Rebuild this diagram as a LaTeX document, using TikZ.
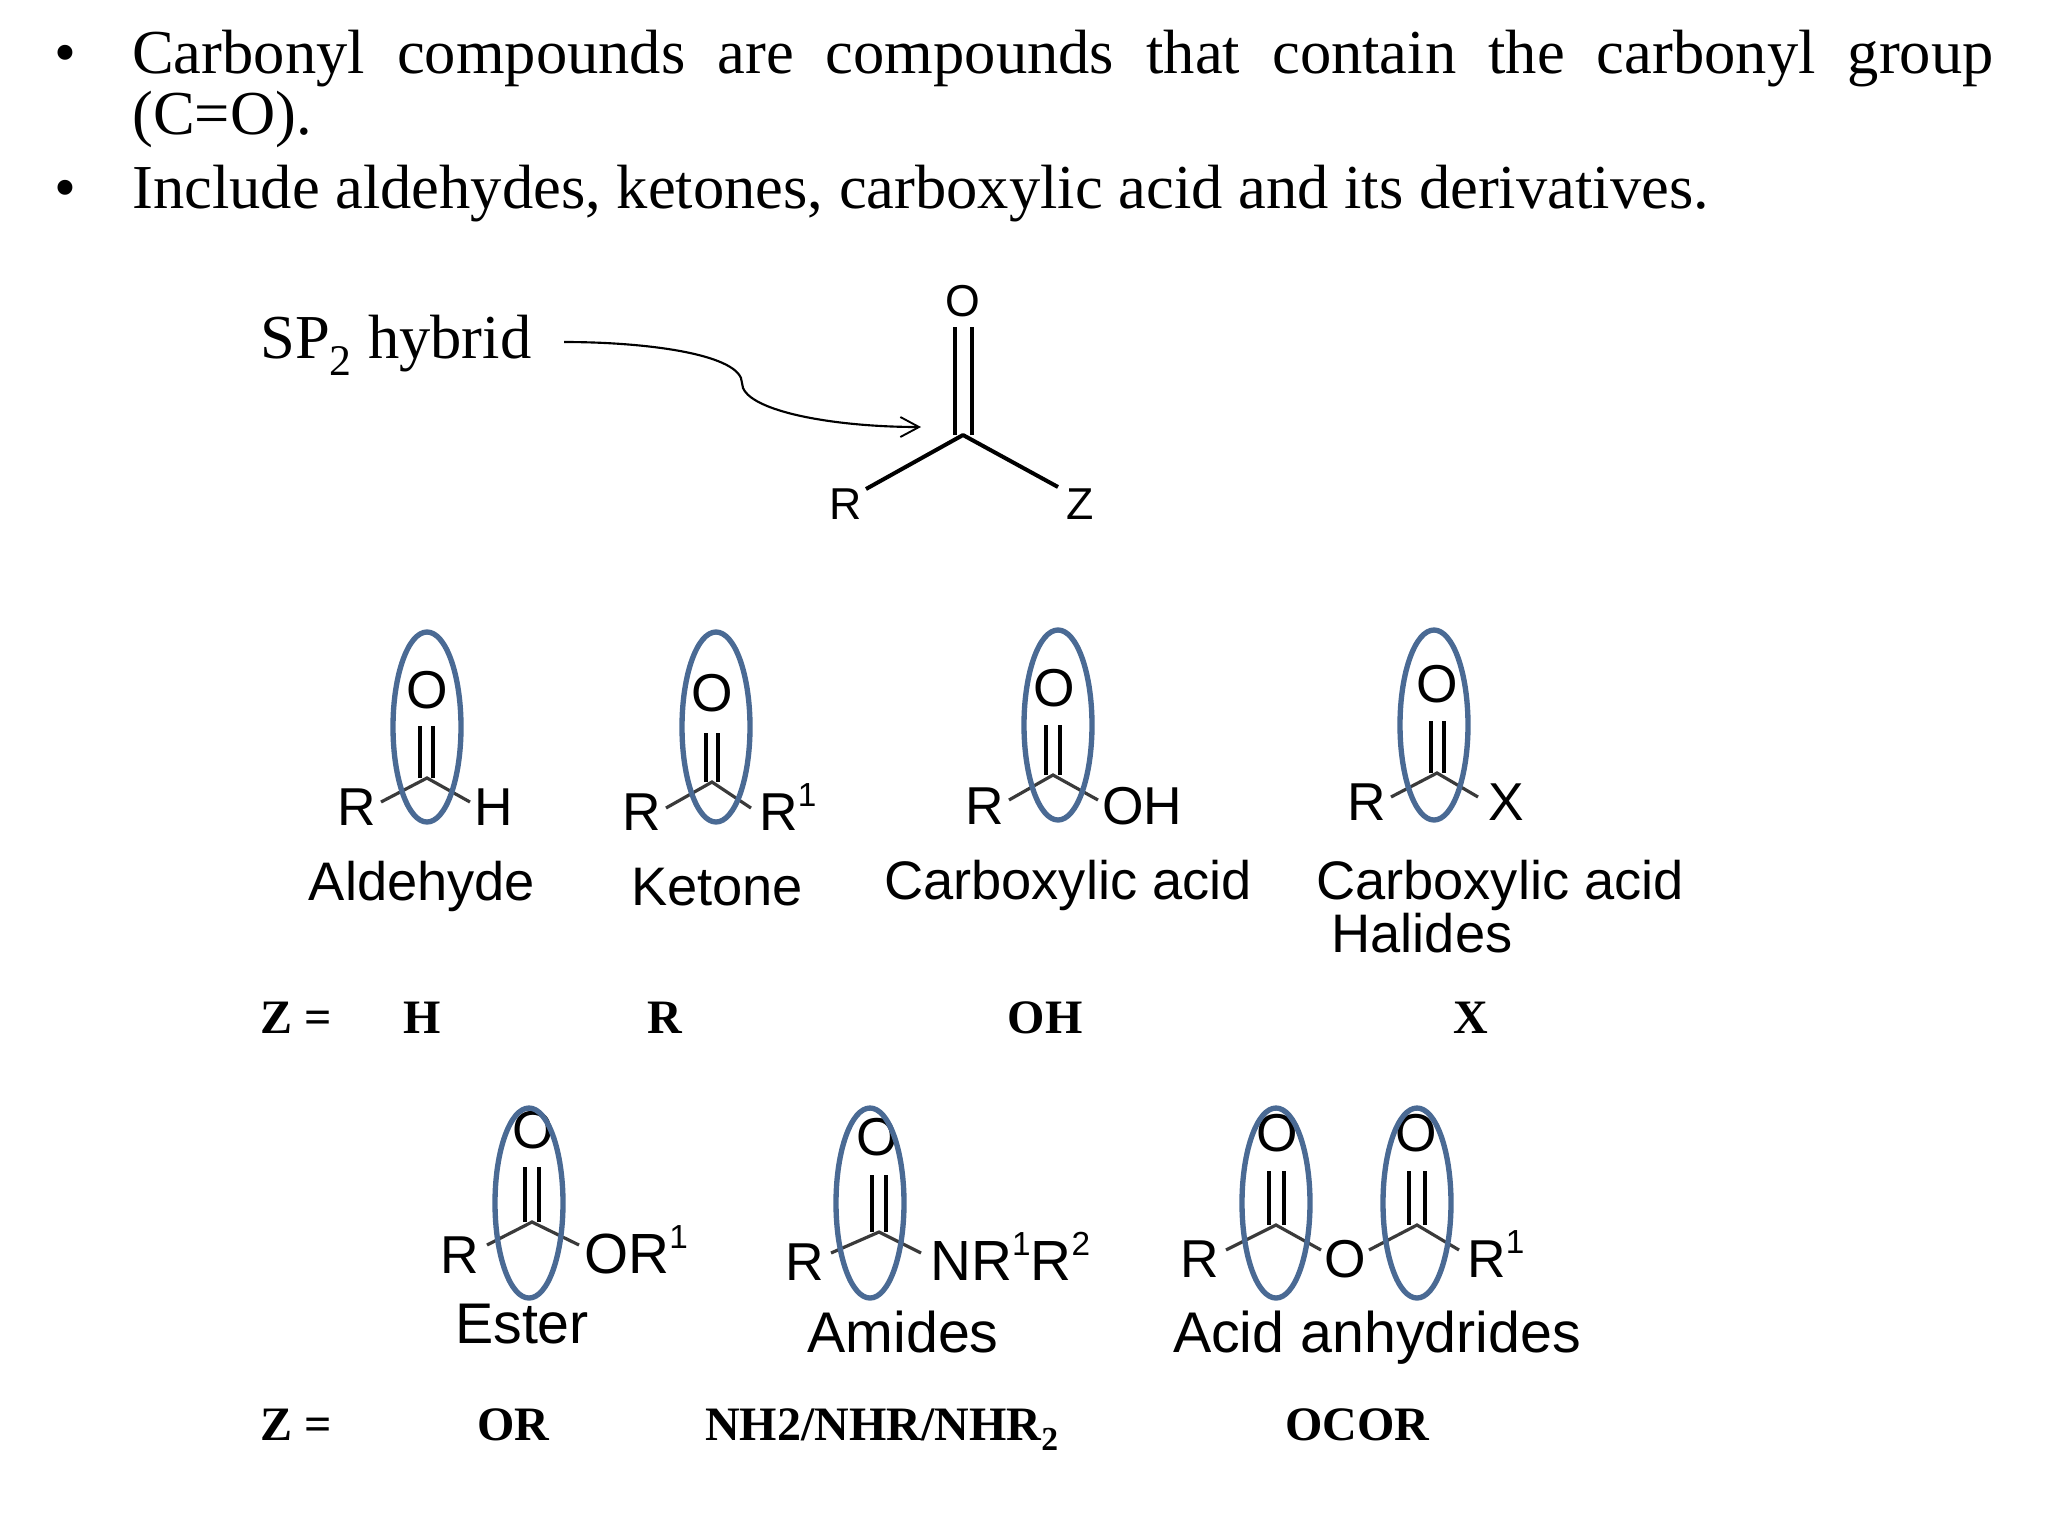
\documentclass[tikz,border=0pt]{standalone}
\usepackage{fontspec}
\setmainfont{Liberation Serif}
\setsansfont{Liberation Sans}
\usetikzlibrary{arrows.meta}
\definecolor{ringblue}{HTML}{4A6A94}
\definecolor{sidebond}{HTML}{3A3A3A}
\newcommand{\upidx}[1]{\raisebox{0.44em}{\fontsize{25}{25}\selectfont #1}}
\tikzset{
  body/.style={anchor=base west,inner sep=0pt,font=\fontsize{46.9}{47}\selectfont},
  zrow/.style={anchor=base,inner sep=0pt,font=\fontsize{36}{37}\selectfont\bfseries},
  zhead/.style={zrow,anchor=base west},
  atomtop/.style={anchor=base,inner sep=0pt,font=\fontsize{33.5}{34}\selectfont\sffamily},
  atom/.style={anchor=base,inner sep=0pt,font=\fontsize{40}{40}\selectfont\sffamily},
  atomw/.style={atom,anchor=base west},
  atomwb/.style={atomw,font=\fontsize{42.5}{43}\selectfont\sffamily},
  caption/.style={anchor=base,inner sep=0pt,font=\fontsize{40.7}{41}\selectfont\sffamily},
  captionb/.style={caption,font=\fontsize{43}{44}\selectfont\sffamily},
  ring/.style={draw=ringblue,line width=4pt},
  dbl/.style={line width=2.4pt,black},
  sgl/.style={line width=2.4pt,sidebond},
}
% name, cx, cy, top y, gap-left x, gap-right x, left end x, right end x, end y
\newcommand{\carbonyl}[9]{%
  \coordinate (#1c) at (#2,#3);
  \coordinate (#1a) at (#5,#3);
  \coordinate (#1b) at (#6,#3);
  \coordinate (#1at) at (#5,#4);
  \coordinate (#1bt) at (#6,#4);
  \coordinate (#1l) at (#7,#9);
  \coordinate (#1r) at (#8,#9);
  \draw[dbl] (#1a) -- (#1at);
  \draw[dbl] (#1b) -- (#1bt);
  \draw[sgl] (#1l) -- (#1c) -- (#1r);
}
\begin{document}
\begin{tikzpicture}[x=0.75pt,y=-0.75pt]
\useasboundingbox (0,0) rectangle (2048,1536);
% bullets
\node[body] (b1) at (54,73) {\textbullet};
\node[body] (l1) at (132,73) {\hbox to 1396pt{Carbonyl\hfil compounds\hfil are\hfil compounds\hfil that\hfil contain\hfil the\hfil carbonyl\hfil group}};
\node[body] (l2) at (132,134) {(C=O).};
\node[body] (b2) at (54,208) {\textbullet};
\node[body] (l3) at (132,208) {Include aldehydes, ketones, carboxylic acid and its derivatives.};
% main structure
\node[body] (sp) at (260,358) {SP\textsubscript{2} hybrid};
\coordinate (arrowstart) at (564,342);
\coordinate (arrowmid) at (742,383);
\coordinate (arrowend) at (921,427);
\draw[line width=1.6pt,-{Straight Barb[length=14pt,width=15pt,line width=1.4pt]}]
  (arrowstart) .. controls (650,342) and (742,355) .. (arrowmid)
  .. controls (742,410) and (830,427) .. (arrowend);
\node[atomtop] (topO) at (963,316) {O};
\node[atomtop] (topR) at (846,519) {R};
\node[atomtop] (topZ) at (1080,519) {Z};
\coordinate (tc) at (963,435);
\coordinate (ta) at (955,435);
\coordinate (tb) at (972,435);
\coordinate (tat) at (955,327);
\coordinate (tbt) at (972,327);
\coordinate (tl) at (866,489);
\coordinate (tr) at (1058,487);
\draw[line width=3pt] (ta) -- (tat);
\draw[line width=3pt] (tb) -- (tbt);
\draw[line width=3pt,line join=round] (tl) -- (tc) -- (tr);
% Aldehyde
\carbonyl{a}{427}{778}{726}{420}{433}{381}{470}{802}
\node[atom] (aO) at (427,708) {O};
\node[atom] (aR) at (357,825) {R};
\node[atom] (aH) at (494,825) {H};
\node[caption] (aT) at (422,900) {Aldehyde};
% Ketone
\carbonyl{k}{712}{782}{733}{706}{718}{666}{751}{808}
\node[atom] (kO) at (712,711) {O};
\node[atom] (kR) at (642,830) {R};
\node[atomw] (kS) at (759,830) {R\upidx{1}};
\node[caption] (kT) at (717,905) {Ketone};
% Carboxylic acid
\carbonyl{c}{1053}{775}{725}{1046}{1060}{1009}{1098}{800}
\node[atom] (cO) at (1054,706) {O};
\node[atom] (cR) at (985,824) {R};
\node[atomw] (cS) at (1102,824) {OH};
\node[caption] (cT) at (1068,899) {Carboxylic acid};
% Halides
\carbonyl{h}{1437}{773}{721}{1431}{1444}{1391}{1478}{797}
\node[atom] (hO) at (1437,702) {O};
\node[atom] (hR) at (1367,820) {R};
\node[atom] (hX) at (1506,820) {X};
\node[caption] (hT) at (1500,899) {Carboxylic acid};
\node[caption] (hU) at (1422,952) {Halides};
% Z row 1
\node[zhead] (z1) at (260,1033) {Z =};
\node[zrow] (z1a) at (422,1033) {H};
\node[zrow] (z1b) at (665,1033) {R};
\node[zrow] (z1c) at (1045,1033) {OH};
\node[zrow] (z1d) at (1471,1033) {X};
% Ester
\carbonyl{e}{532}{1222}{1167}{525}{539}{487}{579}{1245}
\node[atom] (eO) at (533,1148) {O};
\node[atom] (eR) at (460,1273) {R};
\node[atomwb] (eS) at (584,1273) {OR\upidx{1}};
\node[captionb] (eT) at (522,1343) {Ester};
% Amides
\carbonyl{m}{879}{1232}{1175}{872}{886}{831}{921}{1253}
\node[atom] (mO) at (877,1155) {O};
\node[atom] (mR) at (805,1280) {R};
\node[atomwb] (mS) at (930,1280) {NR\upidx{1}R\upidx{2}};
\node[captionb] (mT) at (903,1352) {Amides};
% Anhydride
\carbonyl{p}{1276}{1225}{1171}{1269}{1284}{1226}{1321}{1250}
\carbonyl{q}{1417}{1225}{1171}{1409}{1425}{1369}{1459}{1250}
\node[atom] (pO) at (1277,1151) {O};
\node[atom] (qO) at (1416,1151) {O};
\node[atom] (pR) at (1200,1277) {R};
\node[atom] (pM) at (1345,1277) {O};
\node[atomw] (pS) at (1467,1277) {R\upidx{1}};
\node[captionb] (pT) at (1377,1352) {Acid anhydrides};
% Z row 2
\node[zhead] (z2) at (260,1440) {Z =};
\node[zrow] (z2a) at (513,1440) {OR};
\node[zrow] (z2b) at (882,1440) {NH2/NHR/NHR\textsubscript{2}};
\node[zrow] (z2c) at (1357,1440) {OCOR};
% rings
\draw[ring] (427,727) ellipse [x radius=34,y radius=95];
\draw[ring] (716,727) ellipse [x radius=34,y radius=95];
\draw[ring] (1058,725) ellipse [x radius=34,y radius=95];
\draw[ring] (1434,725) ellipse [x radius=34,y radius=95];
\draw[ring] (529,1203) ellipse [x radius=34,y radius=95];
\draw[ring] (870,1203) ellipse [x radius=34,y radius=95];
\draw[ring] (1276,1203) ellipse [x radius=34,y radius=95];
\draw[ring] (1417,1203) ellipse [x radius=34,y radius=95];
\end{tikzpicture}
\end{document}
